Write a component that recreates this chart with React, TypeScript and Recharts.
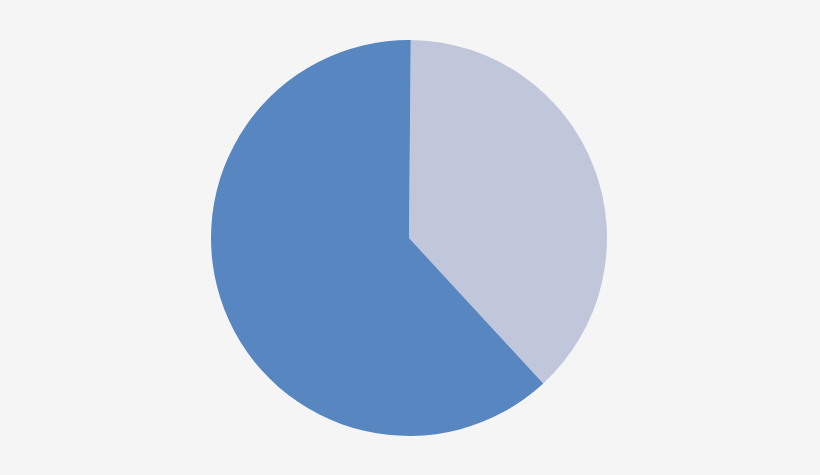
import { Cell, Pie, PieChart } from "recharts";

const labels = ["Share B", "Share A"];
const values = [38, 62];
const colors = ["#c1c7db", "#5886c1"];

const data = labels.map((name, i) => ({ name, value: values[i] }));

export default function App() {
  return (
    <div
      style={{
        position: "absolute",
        left: 0,
        top: 0,
        width: 820,
        height: 475,
        background: "#f5f5f5",
      }}
    >
      <PieChart width={820} height={475} margin={{ top: 0, right: 0, bottom: 0, left: 0 }}>
        <Pie
          data={data}
          dataKey="value"
          nameKey="name"
          cx={409}
          cy={238}
          outerRadius={198}
          startAngle={89.5}
          endAngle={-270.5}
          stroke="none"
          isAnimationActive={false}
        >
          {data.map((d, i) => (
            <Cell key={d.name} fill={colors[i]} />
          ))}
        </Pie>
      </PieChart>
    </div>
  );
}
